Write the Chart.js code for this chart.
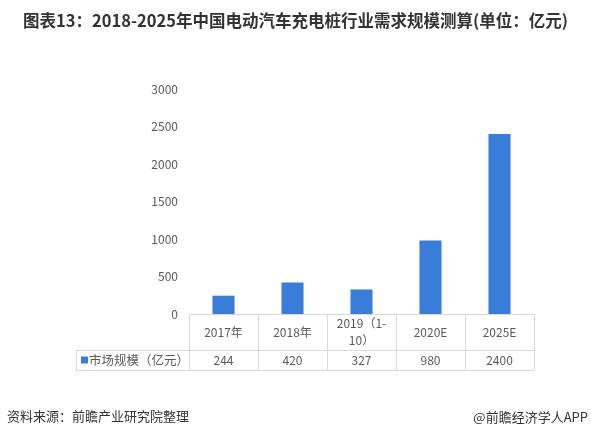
<!DOCTYPE html>
<html>
<head>
<meta charset="utf-8">
<script src="https://cdn.jsdelivr.net/npm/chart.js@4/dist/chart.umd.min.js"></script>
<style>
    html, body { margin: 0; padding: 0; background: #fff; }
    #wrap { width: 591px; height: 438px; }
</style>
</head>
<body>
<div id="wrap"><canvas id="chargeChart" width="591" height="438"></canvas></div>
<script>
// --- datos ---
const categorias = ['2017年', '2018年', ['2019（1-', '10）'], '2020E', '2025E'];
const mercado = [244, 420, 327, 980, 2400];
const yTicks = [0, 500, 1000, 1500, 2000, 2500, 3000];
const serieNombre = '市场规模（亿元）';
const titulo = '图表13：2018-2025年中国电动汽车充电桩行业需求规模测算(单位：亿元)';
const fuente = '资料来源：前瞻产业研究院整理';
const marca = '@前瞻经济学人APP';

const FONT = '"Noto Sans CJK SC", "Noto Sans", sans-serif';
const AZUL = '#3a7dd8';
const LINEA = '#d9d9d9';
const TEXTO = '#595959';

// título, tabla de datos bajo el eje x y pie de página
const tablaPlugin = {
    id: 'tablaDatos',
    afterDraw(chart) {
        const ctx = chart.ctx;
        const area = chart.chartArea;
        const x = chart.scales.x;
        const n = categorias.length;
        const ancho = (area.right - area.left) / n;
        const y0 = area.bottom;
        const y1 = y0 + 36;
        const y2 = y1 + 20;
        const leyendaX = 76;

        ctx.save();

        // título (ajustado al ancho del original)
        let size = 18;
        ctx.font = 'bold ' + size + 'px ' + FONT;
        const w = ctx.measureText(titulo).width;
        size = Math.min(22, size * 545 / w);
        ctx.font = 'bold ' + size.toFixed(2) + 'px ' + FONT;
        ctx.fillStyle = '#333';
        ctx.textAlign = 'center';
        ctx.textBaseline = 'middle';
        ctx.fillText(titulo, 295.5, 21);

        ctx.strokeStyle = LINEA;
        ctx.lineWidth = 1;
        ctx.beginPath();
        ctx.moveTo(area.left, y0 + 0.5); ctx.lineTo(area.right, y0 + 0.5);
        ctx.moveTo(leyendaX, y1 + 0.5); ctx.lineTo(area.right, y1 + 0.5);
        ctx.moveTo(leyendaX, y2 + 0.5); ctx.lineTo(area.right, y2 + 0.5);
        ctx.moveTo(leyendaX + 0.5, y1); ctx.lineTo(leyendaX + 0.5, y2);
        for (let i = 0; i <= n; i++) {
            const px = Math.round(area.left + i * ancho) + 0.5;
            ctx.moveTo(px, y0); ctx.lineTo(px, y2);
        }
        ctx.stroke();

        ctx.fillStyle = TEXTO;
        ctx.font = '12px ' + FONT;
        ctx.textAlign = 'center';
        ctx.textBaseline = 'middle';
        categorias.forEach((c, i) => {
            const cx = x.getPixelForValue(i);
            const lineas = Array.isArray(c) ? c : [c];
            const alto = 17;
            const inicio = (y0 + y1) / 2 - (lineas.length - 1) * alto / 2;
            lineas.forEach((t, j) => ctx.fillText(t, cx, inicio + j * alto));
            ctx.fillText(String(mercado[i]), cx, (y1 + y2) / 2);
        });

        // leyenda
        ctx.fillStyle = AZUL;
        ctx.fillRect(81, (y1 + y2) / 2 - 3.5, 7, 7);
        ctx.fillStyle = TEXTO;
        ctx.textAlign = 'left';
        ctx.font = '12.5px ' + FONT;
        ctx.fillText(serieNombre, 89, (y1 + y2) / 2);

        // pie
        ctx.fillStyle = '#333';
        ctx.font = '13px ' + FONT;
        ctx.fillText(fuente, 7, 416);
        ctx.textAlign = 'right';
        ctx.fillText(marca, 588, 417);
        ctx.restore();
    }
};

new Chart(document.getElementById('chargeChart').getContext('2d'), {
    type: 'bar',
    data: {
        labels: categorias,
        datasets: [{
            label: serieNombre,
            data: mercado,
            backgroundColor: AZUL,
            borderWidth: 0,
            categoryPercentage: 1,
            barPercentage: 0.32
        }]
    },
    options: {
        responsive: false,
        animation: false,
        layout: {
            padding: { left: 140, right: 57, top: 89, bottom: 124 }
        },
        plugins: {
            legend: { display: false },
            tooltip: { enabled: false },
            title: { display: false }
        },
        scales: {
            x: { display: false },
            y: {
                min: 0,
                max: 3000,
                afterBuildTicks: s => { s.ticks = yTicks.map(v => ({ value: v })); },
                afterFit: s => { s.width = 49; },
                grid: { display: false, drawTicks: false },
                border: { display: false },
                ticks: {
                    color: TEXTO,
                    padding: 11,
                    font: { family: FONT, size: 12 },
                    callback: v => String(v)
                }
            }
        }
    },
    plugins: [tablaPlugin]
});
</script>
</body>
</html>
